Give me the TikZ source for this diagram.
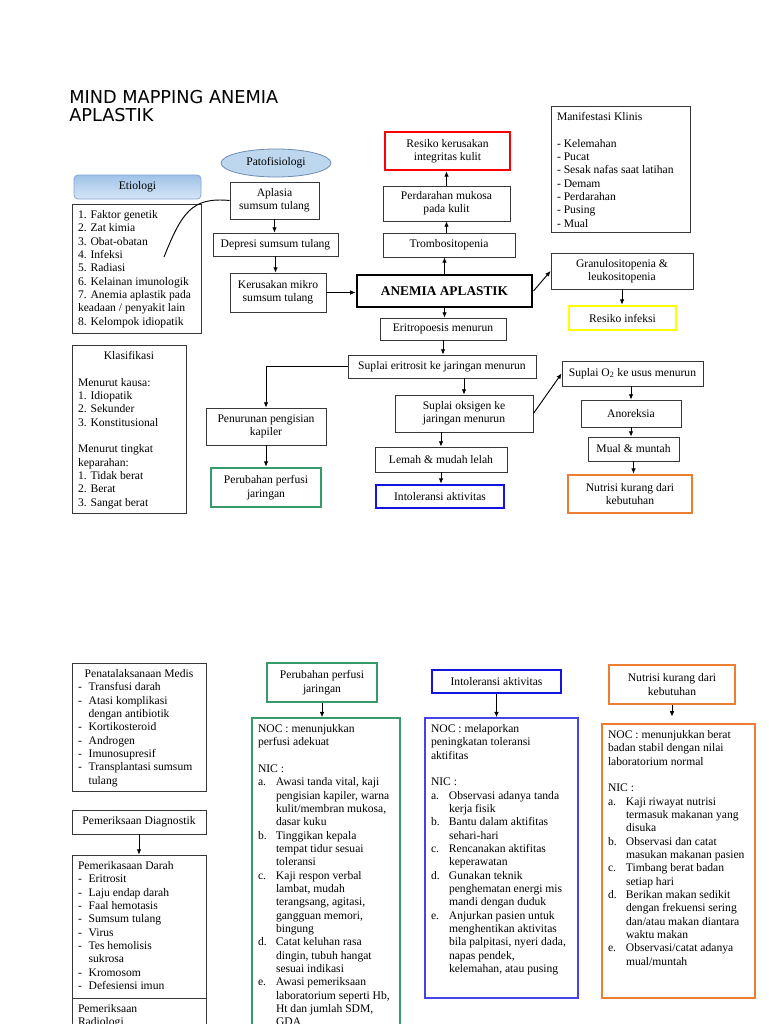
\documentclass[tikz,border=0pt]{standalone}
\usepackage{fontspec}
\setmainfont{Liberation Serif}
\newfontfamily\titlefont{DejaVu Sans}
\usetikzlibrary{arrows.meta,shapes.geometric,calc}
\newlength{\pxu}\setlength{\pxu}{0.75pt}
\newcommand{\boxtext}[3]{\parbox[c][\dimexpr#2\pxu-10\pxu\relax][t]{\dimexpr#1\pxu-12\pxu\relax}{\begin{tabular}[t]{@{}l@{}}#3\end{tabular}}}
\newcommand{\dsh}{\makebox[8pt][l]{-}}
\newcommand{\dind}{\hspace*{8pt}}
\newcommand{\nicit}[1]{\makebox[13.5pt][l]{#1}}
\newcommand{\nicind}{\hspace*{13.5pt}}
\definecolor{boxline}{RGB}{55,55,55}
\definecolor{ellfill}{RGB}{189,215,238}
\definecolor{ellborder}{RGB}{110,140,180}
\definecolor{etitop}{RGB}{160,194,232}
\definecolor{etibot}{RGB}{214,230,246}
\definecolor{etiborder}{RGB}{130,165,210}
\definecolor{perfgreen}{RGB}{55,155,105}
\definecolor{intblue}{RGB}{20,20,225}
\definecolor{nutorange}{RGB}{237,125,49}
\definecolor{infyellow}{RGB}{255,255,0}

\begin{document}
\begin{tikzpicture}[x=0.75pt,y=-0.75pt,
  every node/.style={font=\fontsize{8.7}{10}\selectfont},
  box/.style={draw=boxline,line width=0.6pt,fill=white,align=center,inner sep=0pt},
  boxdim/.style 2 args={minimum width=#1*0.75pt,minimum height=#2*0.75pt},
  hl/.style={draw=#1,line width=2pt},
  listbox/.style={draw=boxline,line width=0.6pt,inner xsep=4.5pt,inner ysep=3.75pt},
  arr/.style={-{Latex[length=4pt,width=3.5pt]},line width=0.7pt}]
  \useasboundingbox (0,0) rectangle (768,1024);
  \clip (0,0) rectangle (768,1024);

  \node[font=\titlefont\fontsize{13.3}{13.6}\selectfont,align=left,anchor=north west,inner sep=0pt] (title) at (69,90) {MIND MAPPING ANEMIA\\APLASTIK};

  % upper map
  \node[listbox] (manif) at (620.5,169) {\boxtext{139}{126}{Manifestasi Klinis\\ \\- Kelemahan\\- Pucat\\- Sesak nafas saat latihan\\- Demam\\- Perdarahan\\- Pusing\\- Mual}};
  \node[box,hl=red,boxdim={125}{38}] (kulit) at (447.5,151) {Resiko kerusakan\\integritas kulit};
  \node[ellipse,draw=ellborder,fill=ellfill,line width=0.6pt,inner sep=0pt,boxdim={110}{28}] (pato) at (276,163) {Patofisiologi};
  \node[draw=etiborder,rounded corners=3pt,top color=etitop,bottom color=etibot,line width=0.6pt,inner sep=0pt,boxdim={127}{24}] (etio) at (137.5,187) {Etiologi};
  \node[box,boxdim={89}{37}] (aplasia) at (274.5,200.5) {Aplasia\\sumsum tulang};
  \node[box,boxdim={127}{35}] (perdarahan) at (446.5,203.5) {Perdarahan mukosa\\pada kulit};
  \node[listbox] (etiolist) at (136.5,268.5) {\boxtext{129}{129}{1. Faktor genetik\\2. Zat kimia\\3. Obat-obatan\\4. Infeksi\\5. Radiasi\\6. Kelainan imunologik\\7. Anemia aplastik pada\\keadaan / penyakit lain\\8. Kelompok idiopatik}};
  \node[box,boxdim={125}{23}] (depresi) at (275.5,244.5) {Depresi sumsum tulang};
  \node[box,boxdim={132}{24}] (trombo) at (449,245) {Trombositopenia};
  \node[box,boxdim={142}{36}] (granulo) at (622,271) {Granulositopenia \&\\leukositopenia};
  \node[box,boxdim={96}{39}] (kerusakan) at (278,292.5) {Kerusakan mikro\\sumsum tulang};
  \node[box,draw=black,line width=2.2pt,boxdim={175}{32},font=\bfseries\fontsize{10}{12}\selectfont] (anemia) at (444.5,291) {ANEMIA APLASTIK};
  \node[box,hl=infyellow,boxdim={107}{24}] (infeksi) at (622.5,318) {Resiko infeksi};
  \node[box,boxdim={126}{22}] (eritro) at (443,329) {Eritropoesis menurun};
  \node[listbox] (klasif) at (129,429) {\boxtext{114}{168}{\makebox[76.5pt]{Klasifikasi}\\ \\Menurut kausa:\\1. Idiopatik\\2. Sekunder\\3. Konstitusional\\ \\Menurut tingkat\\keparahan:\\1. Tidak berat\\2. Berat\\3. Sangat berat}};
  \node[box,boxdim={188}{23}] (suplaieri) at (442,366.5) {Suplai eritrosit ke jaringan menurun};
  \node[box,boxdim={141}{25}] (suplaio2) at (632.5,373.5) {Suplai O\textsubscript{2} ke usus menurun};
  \node[box,boxdim={138}{37}] (suplaioks) at (464,413.5) {Suplai oksigen ke\\jaringan menurun};
  \node[box,boxdim={100}{27}] (anoreksia) at (631,413.5) {Anoreksia};
  \node[box,boxdim={120}{37}] (penurunan) at (266,426.5) {Penurunan pengisian\\kapiler};
  \node[box,boxdim={91}{24}] (mual) at (633.5,449) {Mual \& muntah};
  \node[box,boxdim={132}{25}] (lemah) at (441,459.5) {Lemah \& mudah lelah};
  \node[box,hl=perfgreen,boxdim={110}{39}] (perfusi) at (266,487.5) {Perubahan perfusi\\jaringan};
  \node[box,hl=nutorange,boxdim={124}{38}] (nutrisi) at (630,494) {Nutrisi kurang dari\\kebutuhan};
  \node[box,hl=intblue,boxdim={128}{23}] (intol) at (440,496.5) {Intoleransi aktivitas};
  \coordinate (etioend) at (164,257);

  \draw[line width=0.7pt] (aplasia.west) .. controls (192,197) and (182,212) .. (etioend);
  \draw[arr] (aplasia.south) -- (aplasia.south |- depresi.north);
  \draw[arr] (depresi.south) -- (depresi.south |- kerusakan.north);
  \draw[arr] (kerusakan.east) -- (anemia.west |- kerusakan.east);
  \draw[arr] (anemia.north) -- (anemia.north |- trombo.south);
  \draw[arr] (perdarahan.south |- trombo.north) -- (perdarahan.south);
  \draw[arr] (perdarahan.north) -- (perdarahan.north |- kulit.south);
  \draw[arr] (anemia.east) -- (granulo.west);
  \draw[arr] (granulo.south) -- (granulo.south |- infeksi.north);
  \draw[arr] (anemia.south) -- (anemia.south |- eritro.north);
  \draw[arr] (eritro.south) -- (eritro.south |- suplaieri.north);
  \draw[arr] (suplaieri.west) -| (penurunan.north);
  \draw[arr] (suplaioks.north |- suplaieri.south) -- (suplaioks.north);
  \draw[arr] (suplaioks.east) -- (suplaio2.west);
  \draw[arr] (anoreksia.north |- suplaio2.south) -- (anoreksia.north);
  \draw[arr] (anoreksia.south) -- (anoreksia.south |- mual.north);
  \draw[arr] (mual.south) -- (mual.south |- nutrisi.north);
  \draw[arr] (lemah.north |- suplaioks.south) -- (lemah.north);
  \draw[arr] (lemah.south) -- (lemah.south |- intol.north);
  \draw[arr] (penurunan.south) -- (penurunan.south |- perfusi.north);

  % lower part
  \node[listbox] (medis) at (139,727) {\boxtext{134}{128}{\makebox[91.5pt]{Penatalaksanaan Medis}\\\dsh Transfusi darah\\\dsh Atasi komplikasi\\\dind dengan antibiotik\\\dsh Kortikosteroid\\\dsh Androgen\\\dsh Imunosupresif\\\dsh Transplantasi sumsum\\\dind tulang}};
  \node[box,boxdim={134}{24}] (diag) at (139,822) {Pemeriksaan Diagnostik};
  \node[listbox] (darah) at (139,926.5) {\boxtext{134}{143}{Pemerikasaan Darah\\\dsh Eritrosit\\\dsh Laju endap darah\\\dsh Faal hemotasis\\\dsh Sumsum tulang\\\dsh Virus\\\dsh Tes hemolisis\\\dind sukrosa\\\dsh Kromosom\\\dsh Defesiensi imun}};
  \node[listbox] (radio) at (139,1028) {\boxtext{134}{60}{Pemeriksaan\\Radiologi}};

  \node[box,hl=perfgreen,boxdim={110}{39}] (perfusi2) at (322,682.5) {Perubahan perfusi\\jaringan};
  \node[listbox,draw=perfgreen,line width=1.2pt] (nocgreen) at (326,888) {\boxtext{148}{340}{NOC : menunjukkan\\perfusi adekuat\\ \\NIC :\\\nicit{a.}Awasi tanda vital, kaji\\\nicind pengisian kapiler, warna\\\nicind kulit/membran mukosa,\\\nicind dasar kuku\\\nicit{b.}Tinggikan kepala\\\nicind tempat tidur sesuai\\\nicind toleransi\\\nicit{c.}Kaji respon verbal\\\nicind lambat, mudah\\\nicind terangsang, agitasi,\\\nicind gangguan memori,\\\nicind bingung\\\nicit{d.}Catat keluhan rasa\\\nicind dingin, tubuh hangat\\\nicind sesuai indikasi\\\nicit{e.}Awasi pemeriksaan\\\nicind laboratorium seperti Hb,\\\nicind Ht dan jumlah SDM,\\\nicind GDA}};

  \node[box,hl=intblue,boxdim={129}{23}] (intol2) at (496.5,681.5) {Intoleransi aktivitas};
  \node[listbox,draw=intblue!80,line width=1.2pt] (nocblue) at (501.5,858) {\boxtext{153}{280}{NOC : melaporkan\\peningkatan toleransi\\aktifitas\\ \\NIC :\\\nicit{a.}Observasi adanya tanda\\\nicind kerja fisik\\\nicit{b.}Bantu dalam aktifitas\\\nicind sehari-hari\\\nicit{c.}Rencanakan aktifitas\\\nicind keperawatan\\\nicit{d.}Gunakan teknik\\\nicind penghematan energi mis\\\nicind mandi dengan duduk\\\nicit{e.}Anjurkan pasien untuk\\\nicind menghentikan aktivitas\\\nicind bila palpitasi, nyeri dada,\\\nicind napas pendek,\\\nicind kelemahan, atau pusing}};

  \node[box,hl=nutorange,boxdim={126}{39}] (nutrisi2) at (672,684.5) {Nutrisi kurang dari\\kebutuhan};
  \node[listbox,draw=nutorange,line width=1.2pt] (nocorange) at (678.5,861) {\boxtext{153}{274}{NOC : menunjukkan berat\\badan stabil dengan nilai\\laboratorium normal\\ \\NIC :\\\nicit{a.}Kaji riwayat nutrisi\\\nicind termasuk makanan yang\\\nicind disuka\\\nicit{b.}Observasi dan catat\\\nicind masukan makanan pasien\\\nicit{c.}Timbang berat badan\\\nicind setiap hari\\\nicit{d.}Berikan makan sedikit\\\nicind dengan frekuensi sering\\\nicind dan/atau makan diantara\\\nicind waktu makan\\\nicit{e.}Observasi/catat adanya\\\nicind mual/muntah}};

  \draw[arr] (diag.south) -- (diag.south |- darah.north);
  \draw[arr] (perfusi2.south) -- (perfusi2.south |- nocgreen.north);
  \draw[arr] (intol2.south) -- (intol2.south |- nocblue.north);
  \draw[arr,shorten >=5pt] (nutrisi2.south) -- (nutrisi2.south |- nocorange.north);
\end{tikzpicture}
\end{document}
